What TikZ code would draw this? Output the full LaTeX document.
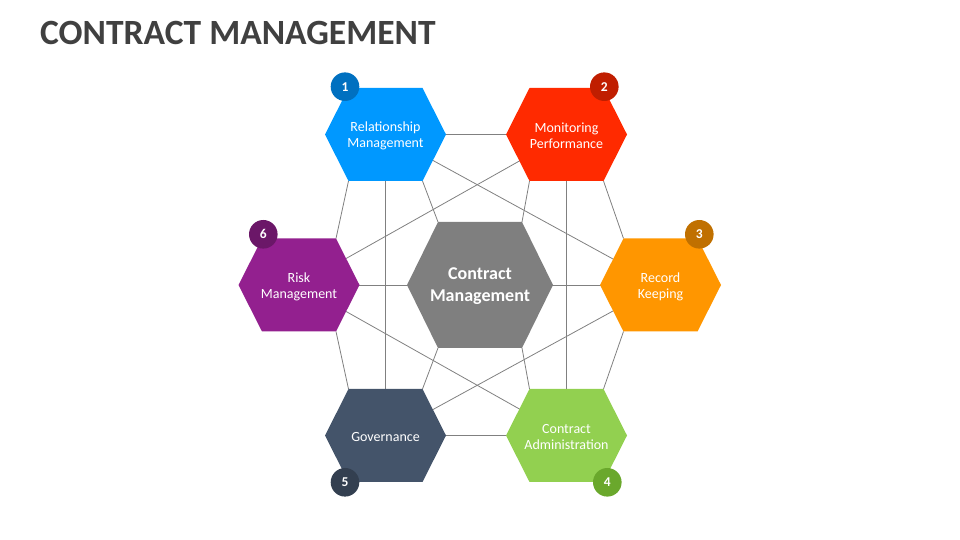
\documentclass[tikz,border=0pt]{standalone}
\usepackage{fontspec}
\setmainfont{Carlito}
\usepackage{tikz}
\pgfdeclarelayer{background}
\pgfdeclarelayer{foreground}
\pgfsetlayers{background,main,foreground}

\definecolor{titlegray}{HTML}{404040}
\definecolor{linegray}{HTML}{808080}
\definecolor{relblue}{HTML}{0098FF}
\definecolor{relbadge}{HTML}{0070C0}
\definecolor{monred}{HTML}{FF2A00}
\definecolor{monbadge}{HTML}{C01E00}
\definecolor{recorange}{HTML}{FF9600}
\definecolor{recbadge}{HTML}{C07000}
\definecolor{admgreen}{HTML}{92D050}
\definecolor{admbadge}{HTML}{6AA82C}
\definecolor{govslate}{HTML}{44546A}
\definecolor{govbadge}{HTML}{333F50}
\definecolor{riskpurple}{HTML}{93208F}
\definecolor{riskbadge}{HTML}{6B1768}
\definecolor{coregray}{HTML}{7F7F7F}

% hexagon: name, centre, half width, half top edge, half height, colour
\newcommand{\hexfill}[6]{%
  \coordinate (#1) at #2;
  \begin{scope}[shift={#2}]
    \coordinate (#1-w)  at (-#3,0);
    \coordinate (#1-nw) at (-#4,#5);
    \coordinate (#1-ne) at (#4,#5);
    \coordinate (#1-e)  at (#3,0);
    \coordinate (#1-se) at (#4,-#5);
    \coordinate (#1-sw) at (-#4,-#5);
  \end{scope}
  \fill[#6] (#1-w) -- (#1-nw) -- (#1-ne) -- (#1-e) -- (#1-se) -- (#1-sw) -- cycle;
}

\begin{document}
\begin{tikzpicture}[x=1pt, y=1pt,
    link/.style={draw=linegray, line width=0.8pt},
    hexlabel/.style={text=white, align=center, yshift=-1.5pt, font=\fontsize{14}{16}\selectfont},
    badge/.style={circle, minimum size=28.6pt, inner sep=0pt, text=white, font=\fontsize{13.5}{15}\selectfont\bfseries}]
					\useasboundingbox (0,0) rectangle (960,540);

					%Title
					\node[anchor=base west, inner sep=0pt, text=titlegray, font=\fontsize{35.5}{40}\selectfont\bfseries] (title) at (40,495) {CONTRACT MANAGEMENT};

					%Hexagons
					\hexfill{h1}{(385.5,405.5)}{60.5}{37}{46.5}{relblue}
					\hexfill{h2}{(566.5,405.5)}{60.5}{37}{46.5}{monred}
					\hexfill{h3}{(660.5,255)}{60.5}{37}{46.5}{recorange}
					\hexfill{h4}{(566.5,104.5)}{60.5}{37}{46.5}{admgreen}
					\hexfill{h5}{(385.5,104.5)}{60.5}{37}{46.5}{govslate}
					\hexfill{h6}{(299,255)}{60.5}{37}{46.5}{riskpurple}
					\hexfill{c}{(480,255)}{73}{42}{63}{coregray}

					%Labels
					\node[hexlabel] (h1-text) at (h1) {Relationship\\Management};
					\node[hexlabel] (h2-text) at (h2) {Monitoring\\Performance};
					\node[hexlabel] (h3-text) at (h3) {Record\\Keeping};
					\node[hexlabel] (h4-text) at (h4) {Contract\\Administration};
					\node[hexlabel] (h5-text) at (h5) {Governance};
					\node[hexlabel] (h6-text) at (h6) {Risk\\Management};
					\node[hexlabel, font=\fontsize{18}{22}\selectfont\bfseries] (c-text) at (c) {Contract\\Management};

					%Badges
					\node[badge, fill=relbadge]   (b1) at (345,453.3)   {1};
					\node[badge, fill=monbadge]   (b2) at (604.3,453.3) {2};
					\node[badge, fill=recbadge]   (b3) at (699.3,305.7) {3};
					\node[badge, fill=admbadge]   (b4) at (607.3,57.7)  {4};
					\node[badge, fill=govbadge]   (b5) at (345,57.7)    {5};
					\node[badge, fill=riskbadge]  (b6) at (263.3,305.7) {6};

					%Lines
					\begin{pgfonlayer}{background}
					\draw[link] (h1) -- (h2);
					\draw[link] (h5) -- (h4);
					\draw[link] (h6) -- (h3);
					\draw[link] (h1) -- (h5);
					\draw[link] (h2) -- (h4);
					\draw[link] (h1) -- (h3);
					\draw[link] (h6) -- (h2);
					\draw[link] (h6) -- (h4);
					\draw[link] (h5) -- (h3);

					\draw[link] (h6-ne) -- (h1-sw);
					\draw[link] (h6-se) -- (h5-nw);
					\draw[link] (h3-nw) -- (h2-se);
					\draw[link] (h3-sw) -- (h4-ne);
					\draw[link] (c-nw) -- (h1-se);
					\draw[link] (c-ne) -- (h2-sw);
					\draw[link] (c-sw) -- (h5-ne);
					\draw[link] (c-se) -- (h4-nw);
					\end{pgfonlayer}

				\end{tikzpicture}
\end{document}
